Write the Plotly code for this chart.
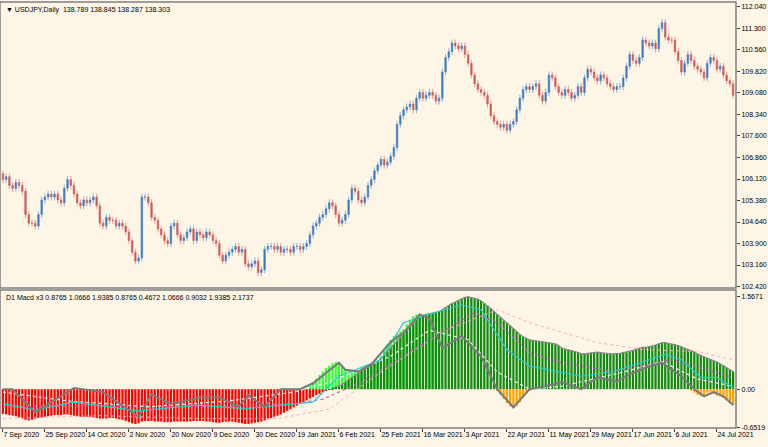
import plotly.graph_objects as go

# daily closes, USDJPY, 7 Sep 2020 .. end Jul 2021 (one bar per trading day)
closes = [
    106.1, 106.2, 105.9, 105.8, 106.0, 105.9, 105.7, 104.9, 104.6, 104.6, 104.5, 104.9, 105.4,
    105.5, 105.6, 105.5, 105.6, 105.4, 105.3, 105.8, 106.1, 105.9, 105.6, 105.3, 105.2, 105.4,
    105.3, 105.4, 105.5, 105.2, 104.6, 104.5, 104.8, 104.7, 104.7, 104.5, 104.6, 104.5, 104.3,
    104.0, 103.6, 103.3, 103.4, 105.5, 105.5, 105.3, 104.8, 104.7, 104.4, 104.2, 104.0, 103.9,
    104.5, 104.6, 104.2, 104.0, 104.1, 104.3, 104.4, 104.0, 104.3, 104.2, 104.1, 104.3, 104.2,
    104.0, 103.9, 103.5, 103.3, 103.5, 103.6, 103.7, 103.8, 103.6, 103.7, 103.2, 103.1, 103.2,
    103.3, 102.9, 103.0, 103.7, 103.8, 103.8, 103.7, 103.8, 103.6, 103.7, 103.7, 103.6, 103.8,
    103.8, 103.7, 103.8, 103.9, 104.2, 104.5, 104.6, 104.8, 104.9, 105.1, 105.3, 105.2, 104.9,
    104.6, 104.7, 104.9, 105.4, 105.8, 105.7, 105.4, 105.3, 105.5, 105.9, 106.1, 106.4, 106.6,
    106.8, 106.6, 106.7, 106.9, 107.2, 108.0, 108.3, 108.5, 108.6, 108.7, 108.5, 108.9, 109.1,
    108.9, 109.0, 109.1, 109.0, 108.8, 108.9, 109.8, 110.3, 110.5, 110.8, 110.7, 110.6, 110.7,
    110.4, 110.1, 109.7, 109.4, 109.2, 109.1, 109.0, 108.7, 108.3, 108.1, 108.0, 107.9, 108.0,
    107.8, 108.0, 108.1, 108.5, 108.9, 109.2, 109.3, 109.2, 109.3, 109.4, 109.0, 108.8, 109.1,
    109.7, 109.6, 109.3, 109.1, 109.0, 109.2, 109.1, 108.9, 109.0, 109.3, 109.1, 109.6, 109.9,
    109.8, 109.6, 109.5, 109.7, 109.6, 109.4, 109.3, 109.2, 109.3, 109.3, 109.6, 110.0, 110.4,
    110.2, 110.1, 110.3, 110.9, 110.8, 110.7, 110.8, 110.6, 111.3, 111.5, 111.0, 110.9, 110.9,
    110.5, 110.2, 109.8, 110.1, 110.4, 110.2, 110.0, 109.9, 109.8, 109.6, 110.1, 110.3, 110.2,
    109.9, 110.0, 109.7, 109.5, 109.4, 109.0,
]
first_open = 106.3
wick = 0.12

# main histogram of the MACD panel
hist = [
    -0.42, -0.43, -0.44, -0.45, -0.46, -0.48, -0.50, -0.52, -0.53, -0.52, -0.50, -0.49, -0.48,
    -0.47, -0.46, -0.45, -0.44, -0.44, -0.44, -0.43, -0.43, -0.44, -0.45, -0.46, -0.47, -0.47,
    -0.47, -0.47, -0.48, -0.49, -0.50, -0.50, -0.50, -0.49, -0.49, -0.50, -0.51, -0.52, -0.54,
    -0.56, -0.58, -0.59, -0.58, -0.55, -0.54, -0.54, -0.54, -0.55, -0.55, -0.55, -0.56, -0.56,
    -0.56, -0.55, -0.55, -0.55, -0.55, -0.55, -0.55, -0.54, -0.54, -0.54, -0.54, -0.55, -0.55,
    -0.56, -0.57, -0.57, -0.56, -0.55, -0.55, -0.55, -0.56, -0.57, -0.58, -0.59, -0.59, -0.58,
    -0.57, -0.56, -0.55, -0.53, -0.51, -0.49, -0.47, -0.45, -0.43, -0.40, -0.37, -0.34, -0.31,
    -0.28, -0.25, -0.22, -0.19, -0.16, -0.13, -0.10, -0.08, -0.05, -0.03, -0.01, 0.02, 0.04,
    0.05, 0.08, 0.12, 0.16, 0.20, 0.24, 0.28, 0.31, 0.34, 0.38, 0.41, 0.44, 0.47,
    0.52, 0.58, 0.64, 0.70, 0.76, 0.82, 0.88, 0.94, 1.00, 1.06, 1.12, 1.18, 1.22,
    1.25, 1.27, 1.28, 1.29, 1.30, 1.32, 1.35, 1.39, 1.43, 1.46, 1.48, 1.51, 1.54,
    1.56, 1.57, 1.56, 1.55, 1.53, 1.50, 1.46, 1.42, 1.37, 1.32, 1.27, 1.22, 1.17,
    1.13, 1.08, 1.03, 0.98, 0.93, 0.89, 0.86, 0.84, 0.83, 0.82, 0.81, 0.81, 0.80,
    0.79, 0.78, 0.77, 0.74, 0.70, 0.68, 0.67, 0.66, 0.64, 0.62, 0.60, 0.60, 0.61,
    0.62, 0.62, 0.63, 0.62, 0.61, 0.60, 0.60, 0.60, 0.60, 0.61, 0.62, 0.63, 0.64,
    0.66, 0.68, 0.70, 0.71, 0.71, 0.72, 0.73, 0.75, 0.77, 0.79, 0.79, 0.78, 0.77,
    0.76, 0.74, 0.72, 0.70, 0.68, 0.66, 0.63, 0.60, 0.57, 0.55, 0.53, 0.51, 0.48,
    0.46, 0.43, 0.40, 0.36, 0.33, 0.30,
]

lime_x = list(range(95, 136))
lime_y = [0.05, 0.12, 0.18, 0.24, 0.30, 0.36, 0.40, 0.44, 0.46, 0.44, 0.38, 0.33, 0.30, 0.30,
          0.31, 0.34, 0.38, 0.40, 0.41, 0.42, 0.44, 0.48, 0.56, 0.66, 0.76, 0.84, 0.90, 0.95,
          0.98, 1.02, 1.10, 1.18, 1.24, 1.27, 1.27, 1.27, 1.26, 1.26, 1.27, 1.28, 1.30]

orange_x = list(range(153, 164)) + list(range(213, 227))
orange_y = [-0.03, -0.10, -0.17, -0.24, -0.29, -0.31, -0.28, -0.22, -0.15, -0.08, -0.02,
            -0.02, -0.06, -0.10, -0.12, -0.10, -0.06, -0.05, -0.08, -0.11, -0.12, -0.15,
            -0.19, -0.23, -0.27]

gray_x = [0, 3, 10, 22, 31, 42, 46, 52, 61, 67, 73, 76, 81, 86, 92, 96, 104, 106, 110, 114,
          120, 124, 129, 132, 136, 142, 148, 153, 158, 163, 168, 173, 179, 184, 190, 194,
          200, 204, 210, 214, 217, 220, 223, 226]
gray_y = [0.0, 0.0, -0.39, 0.02, -0.05, -0.47, -0.09, -0.25, -0.14, -0.14, -0.30, -0.10,
          -0.30, 0.0, 0.0, 0.10, 0.45, 0.33, 0.30, 0.42, 0.80, 0.96, 1.27, 1.20, 0.70, 0.90,
          0.56, 0.0, -0.31, 0.0, 0.05, 0.12, 0.0, 0.20, 0.13, 0.25, 0.39, 0.45, 0.22, 0.0,
          -0.12, -0.05, -0.12, -0.27]

cyan_x = [0, 10, 22, 42, 60, 75, 90, 96, 104, 117, 124, 131, 142, 148, 156, 163, 168, 179,
          189, 200, 205, 210, 216, 221, 226]
cyan_y = [-0.25, -0.35, -0.22, -0.37, -0.27, -0.33, -0.25, -0.22, 0.22, 0.50, 1.13, 1.26,
          1.43, 1.35, 0.67, 0.39, 0.34, 0.22, 0.30, 0.50, 0.59, 0.50, 0.20, 0.20, 0.03]

magenta_x = [0, 30, 60, 90, 99, 111, 127, 139, 146, 153, 163, 173, 189, 207, 226]
magenta_y = [-0.30, -0.28, -0.30, -0.25, -0.17, 0.12, 0.67, 1.06, 1.30, 1.13, 0.62, 0.45,
             0.30, 0.50, 0.20]

pink_x = [0, 30, 60, 85, 101, 117, 137, 153, 163, 184, 199, 215, 226]
pink_y = [-0.50, -0.45, -0.50, -0.50, -0.34, 0.29, 1.00, 1.35, 1.13, 0.79, 0.67, 0.64, 0.50]

white_x = [0, 20, 45, 70, 90, 100, 120, 132, 144, 153, 163, 173, 192, 204, 215, 226]
white_y = [-0.05, -0.20, -0.30, -0.20, -0.05, 0.10, 0.56, 1.00, 0.84, 0.29, 0.0, 0.05, 0.29,
           0.47, 0.17, 0.05]

date_labels = ["7 Sep 2020", "25 Sep 2020", "14 Oct 2020", "2 Nov 2020", "20 Nov 2020",
               "9 Dec 2020", "30 Dec 2020", "19 Jan 2021", "6 Feb 2021", "25 Feb 2021",
               "16 Mar 2021", "3 Apr 2021", "22 Apr 2021", "11 May 2021", "29 May 2021",
               "17 Jun 2021", "6 Jul 2021", "24 Jul 2021"]
price_ticks = [112.040, 111.300, 110.560, 109.820, 109.080, 108.340, 107.600, 106.860,
               106.120, 105.380, 104.640, 103.900, 103.160, 102.420]
macd_ticks = [1.5671, 0.0, -0.6519]

BG = "#fdf5e6"
n = len(closes)
x = list(range(n))
opens = [first_open] + closes[:-1]
highs = [max(o, c) + wick for o, c in zip(opens, closes)]
lows = [min(o, c) - wick for o, c in zip(opens, closes)]

fig = go.Figure()
fig.add_trace(go.Candlestick(
    x=x, open=opens, high=highs, low=lows, close=closes,
    increasing=dict(fillcolor="#3c7cc4", line=dict(color="rgba(60,124,196,0.55)", width=1)),
    decreasing=dict(fillcolor="#d05a5a", line=dict(color="rgba(208,90,90,0.55)", width=1)),
    whiskerwidth=0, xaxis="x", yaxis="y", showlegend=False, hoverinfo="skip"))

fig.add_trace(go.Bar(x=lime_x, y=lime_y, marker=dict(color="#33ff33", line_width=0),
                     xaxis="x2", yaxis="y2", showlegend=False))
fig.add_trace(go.Bar(x=x, y=hist, marker=dict(color=["#ff0000" if v < 0 else "#118a11" for v in hist],
                                              line_width=0),
                     xaxis="x2", yaxis="y2", showlegend=False))
fig.add_trace(go.Bar(x=orange_x, y=orange_y, marker=dict(color="#ffa500", line_width=0),
                     xaxis="x2", yaxis="y2", showlegend=False))

lines = [
    (x, [v if v > 0 else None for v in hist], "#888888", "solid", 1.2),
    (pink_x, pink_y, "#ffaacc", "dot", 1),
    (magenta_x, magenta_y, "#cc55cc", "dot", 1.2),
    (white_x, white_y, "#f4f4f4", "dot", 1.2),
    (cyan_x, cyan_y, "#22cccc", "solid", 1.2),
    (gray_x, gray_y, "#7a7a7a", "solid", 2),
]
for lx, ly, col, dash, w in lines:
    fig.add_trace(go.Scatter(x=lx, y=ly, mode="lines", line=dict(color=col, dash=dash, width=w),
                             xaxis="x2", yaxis="y2", showlegend=False, connectgaps=False))

xr = [-0.9, 226.9]
font = dict(family="Liberation Sans", size=7, color="#000000")
fig.update_layout(
    width=768, height=447, paper_bgcolor=BG, plot_bgcolor=BG,
    margin=dict(l=0, r=32, t=0, b=18), barmode="overlay", bargap=0.3,
    font=font,
    xaxis=dict(domain=[0, 1], range=xr, showticklabels=False, showgrid=False, zeroline=False,
               rangeslider=dict(visible=False), anchor="y"),
    yaxis=dict(domain=[0.3287, 0.9953], range=[102.37, 112.21], side="right", anchor="x",
               tickvals=price_ticks, ticktext=[f"{v:.3f}" for v in price_ticks],
               ticks="outside", ticklen=3, tickcolor="#444", showgrid=False, zeroline=False),
    xaxis2=dict(domain=[0, 1], range=xr, anchor="y2", showgrid=False, zeroline=False,
                tickvals=[13 * i for i in range(len(date_labels))], ticktext=date_labels,
                tickangle=0, ticks="outside", ticklen=3, tickcolor="#444"),
    yaxis2=dict(domain=[0.0023, 0.324], range=[-0.66, 1.685], side="right", anchor="x2",
                tickvals=macd_ticks, ticktext=["1.5671", "0.00", "-0.6519"],
                ticks="outside", ticklen=3, tickcolor="#444", showgrid=False, zeroline=False),
)
fig.update_xaxes(ticklabelposition="outside right")

for dom in ([0.3287, 0.9953], [0.0023, 0.324]):
    fig.add_shape(type="rect", xref="paper", yref="paper", x0=0, x1=1, y0=dom[0], y1=dom[1],
                  line=dict(color="#808080", width=1.5))

fig.add_annotation(xref="paper", yref="paper", x=0.005, y=0.99, xanchor="left", yanchor="top",
                   text="▼ USDJPY,Daily  138.789 138.845 138.287 138.303", showarrow=False,
                   font=font)
fig.add_annotation(xref="paper", yref="paper", x=0.005, y=0.32, xanchor="left", yanchor="top",
                   text="D1 Macd x3 0.8765 1.0666 1.9385 0.8765 0.4672 1.0666 0.9032 1.9385 2.1737",
                   showarrow=False, font=font)

fig.write_html("out.html", config={"displayModeBar": False},
               post_script="document.body.style.margin='0';")
